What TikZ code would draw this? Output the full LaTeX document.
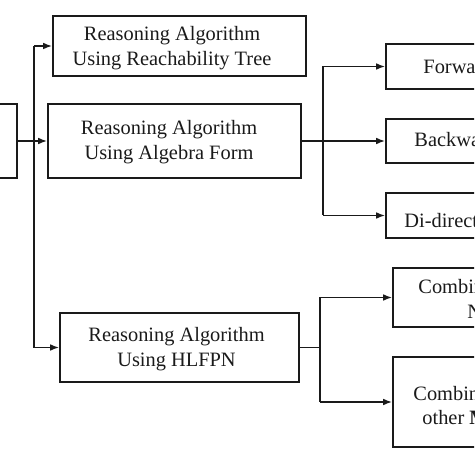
\documentclass[tikz,border=0pt]{standalone}
\usepackage{fontspec}
\setmainfont{Liberation Serif}
\usetikzlibrary{arrows.meta}
\definecolor{ink}{HTML}{1A1A1A}
\begin{document}
\begin{tikzpicture}[x=0.5pt,y=-0.5pt,
  box/.style={draw=ink, line width=0.85pt, inner sep=0pt},
  txt/.style={inner sep=0pt, font=\fontsize{10.2}{12.5}\selectfont, text=ink},
  link/.style={draw=ink, line width=0.85pt},
  arr/.style={link, -{Latex[length=4.5pt,width=3.4pt]}}]
\useasboundingbox (0,0) rectangle (474,474);
\clip (0,0) rectangle (474,474);
% boxes
\node[box, minimum width=48.5pt, minimum height=37pt] (L) at (-31.5,141) {};
\node[box, minimum width=126.5pt, minimum height=30pt] (B1) at (179.5,46) {};
\node[box, minimum width=126.5pt, minimum height=37pt] (B2) at (174.5,141) {};
\node[box, minimum width=119.5pt, minimum height=34.5pt] (B3) at (179.5,347.5) {};
\node[box, minimum width=115.5pt, minimum height=22.5pt] (F) at (501.5,66.5) {};
\node[box, minimum width=115.5pt, minimum height=22pt] (Bk) at (501.5,141) {};
\node[box, minimum width=115.5pt, minimum height=22.5pt] (D) at (501.5,215.5) {};
\node[box, minimum width=115.5pt, minimum height=29.5pt] (C1) at (508.5,297.5) {};
\node[box, minimum width=115.5pt, minimum height=45pt] (C2) at (508.5,402) {};
% texts
\node[txt, align=center] (t1) at (172,48) {Reasoning Algorithm\\Using Reachability Tree};
\node[txt, align=center] (t2) at (169,142) {Reasoning Algorithm\\Using Algebra Form};
\node[txt, align=center] (t3) at (176.5,349) {Reasoning Algorithm\\Using HLFPN};
\node[txt, anchor=base west] (tf) at (423,73.5) {Forward Reasoning};
\node[txt, anchor=base west] (tb) at (414,146.7) {Backward Reasoning};
\node[txt, anchor=base west] (td) at (404,228) {Di-directional Reasoning};
\node[txt, anchor=base west] (c1a) at (418,293.3) {Combining with Neural};
\node[txt, anchor=base west] (c1b) at (467,318) {Networks};
\node[txt, anchor=base west] (c2a) at (413,400) {Combining with};
\node[txt, anchor=base west] (c2b) at (422,424) {other \textbf{Methods}};
% connectors
\coordinate (tr) at (34,141);
\coordinate (s2) at (323,141);
\coordinate (s3) at (320,347.5);
\draw[arr] (L.east) -- (B2.west);
\draw[link] (tr |- B1.west) -- (tr |- B3.west);
\draw[arr] (tr |- B1.west) -- (B1.west);
\draw[arr] (tr |- B3.west) -- (B3.west);
\draw[arr] (B2.east) -- (Bk.west);
\draw[link] (s2 |- F.west) -- (s2 |- D.west);
\draw[arr] (s2 |- F.west) -- (F.west);
\draw[arr] (s2 |- D.west) -- (D.west);
\draw[link] (B3.east) -- (s3);
\draw[link] (s3 |- C1.west) -- (s3 |- C2.west);
\draw[arr] (s3 |- C1.west) -- (C1.west);
\draw[arr] (s3 |- C2.west) -- (C2.west);
\end{tikzpicture}
\end{document}
